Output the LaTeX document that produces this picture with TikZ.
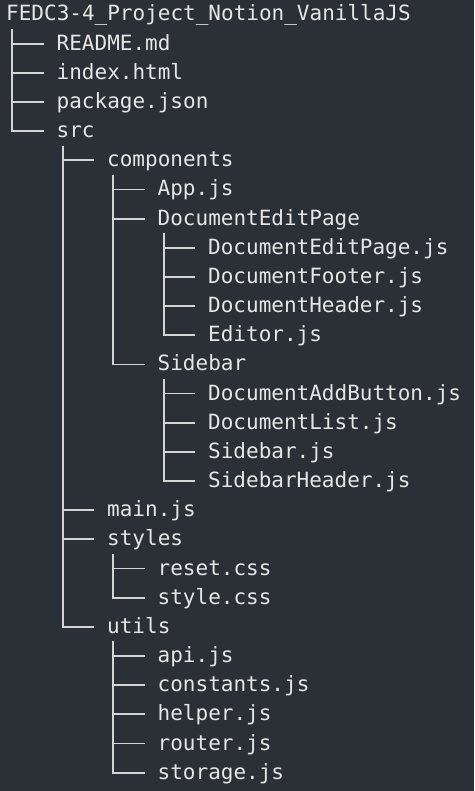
\documentclass[tikz,border=0pt]{standalone}
\usepackage{fontspec}
\setmonofont{DejaVu Sans Mono}
\usetikzlibrary{calc}
\definecolor{bgc}{HTML}{2B3036}
\definecolor{txt}{HTML}{E6E6E6}
\definecolor{ln}{HTML}{D4D4D4}
\newcommand\ry[1]{14.5+29.16*#1+6.5}
\begin{document}
\begin{tikzpicture}[x=1pt,y=-1pt,
  file/.style={anchor=base west,inner sep=0pt,text=txt,font=\ttfamily\fontsize{21}{21}\selectfont},
  tree/.style={draw=ln,line width=1.8pt}]
\fill[bgc] (0,0) rectangle (474,791);
\useasboundingbox (0,0) rectangle (474,791);
% level x positions: 6, 56.5, 107, 157.5, 208
\node[file] (root) at (6,{\ry{0}}) {FEDC3-4\_Project\_Notion\_VanillaJS};
\node[file] (readme) at (56.5,{\ry{1}}) {README.md};
\node[file] (index) at (56.5,{\ry{2}}) {index.html};
\node[file] (pkg) at (56.5,{\ry{3}}) {package.json};
\node[file] (src) at (56.5,{\ry{4}}) {src};
\node[file] (comp) at (107,{\ry{5}}) {components};
\node[file] (app) at (157.5,{\ry{6}}) {App.js};
\node[file] (dep) at (157.5,{\ry{7}}) {DocumentEditPage};
\node[file] (depjs) at (208,{\ry{8}}) {DocumentEditPage.js};
\node[file] (dfoot) at (208,{\ry{9}}) {DocumentFooter.js};
\node[file] (dhead) at (208,{\ry{10}}) {DocumentHeader.js};
\node[file] (editor) at (208,{\ry{11}}) {Editor.js};
\node[file] (side) at (157.5,{\ry{12}}) {Sidebar};
\node[file] (dadd) at (208,{\ry{13}}) {DocumentAddButton.js};
\node[file] (dlist) at (208,{\ry{14}}) {DocumentList.js};
\node[file] (sidejs) at (208,{\ry{15}}) {Sidebar.js};
\node[file] (shead) at (208,{\ry{16}}) {SidebarHeader.js};
\node[file] (mainjs) at (107,{\ry{17}}) {main.js};
\node[file] (styles) at (107,{\ry{18}}) {styles};
\node[file] (reset) at (157.5,{\ry{19}}) {reset.css};
\node[file] (style) at (157.5,{\ry{20}}) {style.css};
\node[file] (utils) at (107,{\ry{21}}) {utils};
\node[file] (api) at (157.5,{\ry{22}}) {api.js};
\node[file] (const) at (157.5,{\ry{23}}) {constants.js};
\node[file] (helper) at (157.5,{\ry{24}}) {helper.js};
\node[file] (router) at (157.5,{\ry{25}}) {router.js};
\node[file] (storage) at (157.5,{\ry{26}}) {storage.js};
\newcommand\branch[2]{\draw[tree] ($(#1.base west)+(6.3,8.1)$) |- ($(#2.base west)+(-12.6,-6.5)$);}
\foreach \c in {readme,index,pkg,src} {\branch{root}{\c}}
\foreach \c in {comp,mainjs,styles,utils} {\branch{src}{\c}}
\foreach \c in {app,dep,side} {\branch{comp}{\c}}
\foreach \c in {depjs,dfoot,dhead,editor} {\branch{dep}{\c}}
\foreach \c in {dadd,dlist,sidejs,shead} {\branch{side}{\c}}
\foreach \c in {reset,style} {\branch{styles}{\c}}
\foreach \c in {api,const,helper,router,storage} {\branch{utils}{\c}}
\end{tikzpicture}
\end{document}
